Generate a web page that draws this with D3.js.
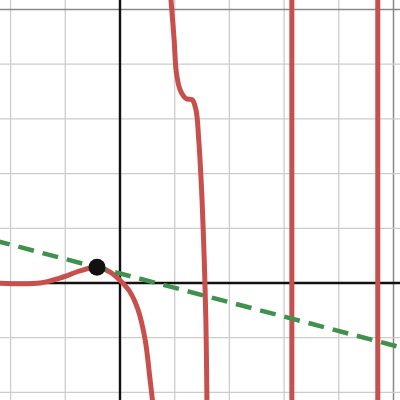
<!DOCTYPE html><html><head><script src="https://cdn.jsdelivr.net/npm/d3@7"></script>
<style>body{margin:0}svg{display:block}</style></head><body><script>
const seg1X=[-2.3,-1.46,-1.1,-0.73,-0.42,-0.18,0,0.18,0.33,0.46,0.55,0.6];
const seg1Y=[0,0,0.09,0.22,0.29,0.2,0.05,-0.16,-0.49,-1.04,-1.77,-2.2];
const seg2X=[0.93,0.99,1.03,1.1,1.21,1.32,1.39,1.44,1.5,1.54,1.57,1.59];
const seg2Y=[5.2,4.44,3.85,3.53,3.37,3.35,3.16,2.61,1.52,0.42,-0.68,-2.2];
const vlines=[3.1416,4.7124];
const tangentX=[-2.3,5.3], tangentY=[0.78,-1.22];
const pt={x:-0.42,y:0.29};
const W=400,H=400,u=54.7;
const x=d3.scaleLinear().domain([-120/u,(W-120)/u]).range([0,W]);
const y=d3.scaleLinear().domain([-(H-283)/u,283/u]).range([H,0]);
const svg=d3.select("body").append("svg").attr("width",W).attr("height",H);
svg.append("rect").attr("width",W).attr("height",H).attr("fill","#fff");
const xs=d3.range(-2,6),ys=d3.range(-2,6);
svg.selectAll(".gx").data(xs).join("line").attr("x1",d=>x(d)).attr("x2",d=>x(d)).attr("y1",0).attr("y2",H).attr("stroke",d=>d%5==0?"#888":"#ccc").attr("stroke-width",d=>d%5==0?1.5:1.3);
svg.selectAll(".gy").data(ys).join("line").attr("y1",d=>y(d)).attr("y2",d=>y(d)).attr("x1",0).attr("x2",W).attr("stroke",d=>d%5==0?"#888":"#ccc").attr("stroke-width",d=>d%5==0?1.5:1.3);
svg.append("line").attr("x1",x(0)).attr("x2",x(0)).attr("y1",0).attr("y2",H).attr("stroke","#111").attr("stroke-width",2.4);
svg.append("line").attr("y1",y(0)).attr("y2",y(0)).attr("x1",0).attr("x2",W).attr("stroke","#111").attr("stroke-width",2.4);
const red="#c74f4c";
[[seg1X,seg1Y],[seg2X,seg2Y]].forEach(([a,b])=>{
 svg.append("path").attr("d",d3.line().x(d=>x(d[0])).y(d=>y(d[1])).curve(d3.curveCatmullRom)(a.map((v,i)=>[v,b[i]]))).attr("fill","none").attr("stroke",red).attr("stroke-width",5);
});
svg.selectAll(".v").data(vlines).join("line").attr("x1",d=>x(d)).attr("x2",d=>x(d)).attr("y1",0).attr("y2",H).attr("stroke",red).attr("stroke-width",5);
svg.append("line").attr("x1",x(tangentX[0])).attr("x2",x(tangentX[1])).attr("y1",y(tangentY[0])).attr("y2",y(tangentY[1])).attr("stroke","#40904e").attr("stroke-width",4.5).attr("stroke-dasharray","16,9");
svg.append("circle").attr("cx",x(pt.x)).attr("cy",y(pt.y)).attr("r",8.5).attr("fill","#111");
</script></body></html>
